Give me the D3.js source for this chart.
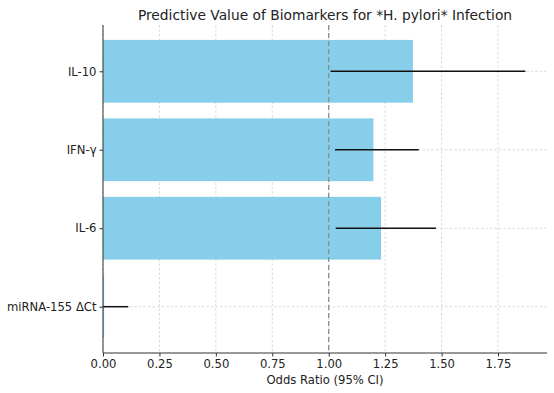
<!DOCTYPE html>
<html lang="en">
<head>
    <meta charset="UTF-8">
    <title>biomarkers</title>
    <script src="https://d3js.org/d3.v7.min.js"></script>
    <style>
        body{ margin:0; background:#fff; }
        text{ font-family:"DejaVu Sans", sans-serif; fill:#222; }
        .grid line{ stroke:#d0d0d0; stroke-dasharray:2.5,2; stroke-width:0.8; }
    </style>
</head>
<body>
<svg width="554" height="393" id="main"></svg>

<script>
    // values
    let markers = ["IL-10", "IFN-\u03b3", "IL-6", "miRNA-155 \u0394Ct"]
    let odds = [1.373, 1.198, 1.232, 0.005]
    let ciLow = [1.008, 1.028, 1.031, 0.0]
    let ciHigh = [1.871, 1.399, 1.475, 0.112]
    let xTicks = [0, 0.25, 0.5, 0.75, 1.0, 1.25, 1.5, 1.75]

    let svg = d3.select("#main")
    let plotL = 103, plotR = 547, plotT = 25, plotB = 353

    let x = d3.scaleLinear().domain([0, 1.967]).range([plotL, plotR])
    // matplotlib barh: index 0 at bottom, limits -0.59..3.59
    let y = d3.scaleLinear().domain([-0.59, 3.59]).range([plotB, plotT])
    let pos = i => markers.length - 1 - i
    let barH = y(0) - y(0.8)

    // grid
    svg.append("g").attr("class", "grid")
        .selectAll("line").data(xTicks).join("line")
        .attr("x1", d => x(d)).attr("x2", d => x(d))
        .attr("y1", plotT).attr("y2", plotB)
    svg.append("g").attr("class", "grid")
        .selectAll("line").data(markers).join("line")
        .attr("x1", plotL).attr("x2", plotR)
        .attr("y1", (d, i) => y(pos(i))).attr("y2", (d, i) => y(pos(i)))

    // bars
    svg.append("g").selectAll("rect").data(odds).join("rect")
        .attr("x", x(0))
        .attr("y", (d, i) => y(pos(i)) - barH / 2)
        .attr("width", d => x(d) - x(0))
        .attr("height", barH)
        .attr("fill", "#87ceeb")

    // reference line at OR = 1
    svg.append("line")
        .attr("x1", x(1)).attr("x2", x(1))
        .attr("y1", plotT).attr("y2", plotB)
        .attr("stroke", "#8c8c8c").attr("stroke-width", 1.3)
        .attr("stroke-dasharray", "5,3")

    // confidence intervals
    svg.append("g").selectAll("line").data(markers).join("line")
        .attr("x1", (d, i) => x(ciLow[i])).attr("x2", (d, i) => x(ciHigh[i]))
        .attr("y1", (d, i) => y(pos(i))).attr("y2", (d, i) => y(pos(i)))
        .attr("stroke", "#111").attr("stroke-width", 1.5)

    // axes
    let xAxis = svg.append("g").attr("transform", `translate(0,${plotB})`)
        .call(d3.axisBottom(x).tickValues(xTicks).tickFormat(d3.format(".2f")).tickSizeOuter(0).tickSize(3.5).tickPadding(3))
    xAxis.select(".domain").attr("d", `M${plotL},0H${plotR}`)
    let yAxis = svg.append("g").attr("transform", `translate(${plotL},0)`)
        .call(d3.axisLeft(y).tickValues([0, 1, 2, 3]).tickFormat(d => markers[markers.length - 1 - d]).tickSizeOuter(0).tickSize(3.5).tickPadding(3))
    yAxis.select(".domain").attr("d", `M0,${plotT}V${plotB}`)
    svg.selectAll(".domain").attr("stroke", "#333").attr("stroke-width", 1)
    svg.selectAll(".tick line").attr("stroke", "#333")
    svg.selectAll(".tick text").style("font-size", "11.6px").attr("fill", "#222")

    svg.append("text")
        .attr("x", (plotL + plotR) / 2).attr("y", 384)
        .attr("text-anchor", "middle").style("font-size", "11.6px")
        .text("Odds Ratio (95% CI)")

    svg.append("text")
        .attr("x", (plotL + plotR) / 2).attr("y", 20)
        .attr("text-anchor", "middle").style("font-size", "13.8px")
        .text("Predictive Value of Biomarkers for *H. pylori* Infection")
</script>
</body>
</html>
